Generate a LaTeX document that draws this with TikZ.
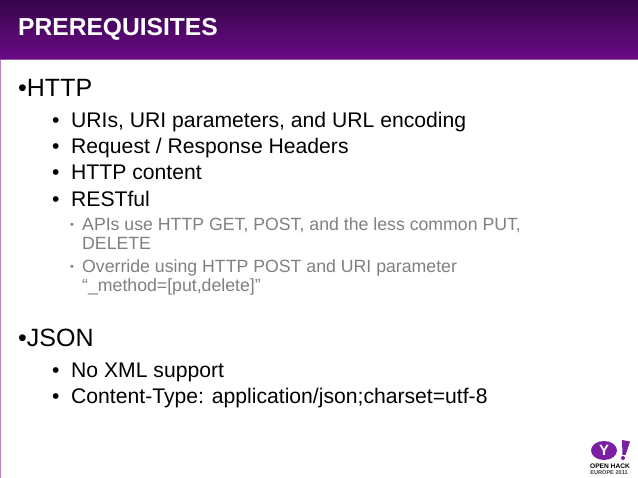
\documentclass[tikz,border=0pt]{standalone}
\usepackage{fontspec}
\setmainfont{Liberation Sans}
\definecolor{bartop}{HTML}{36064A}
\definecolor{barbot}{HTML}{6A0A86}
\definecolor{yp}{HTML}{7B1FA2}
\definecolor{subgray}{HTML}{808080}
\begin{document}
\begin{tikzpicture}[x=1pt,y=-1pt,
  lone/.style={inner sep=0pt,anchor=base west,text=black,font=\fontsize{21.15}{24}\selectfont},
  ltwo/.style={inner sep=0pt,anchor=base west,text=subgray,font=\fontsize{17.7}{20}\selectfont},
  lhead/.style={inner sep=0pt,anchor=base west,text=black,font=\fontsize{25}{28}\selectfont}]
\useasboundingbox (0,0) rectangle (638,478);
\fill[white] (0,0) rectangle (638,478);
\shade[top color=bartop,bottom color=barbot] (0,0) rectangle (638,59);
\fill[barbot!70!white] (0,59) rectangle (638,60.5);
\fill[barbot!50!white] (0,60) rectangle (1.3,478);
\node[inner sep=0pt,anchor=base west,text=white,font=\fontsize{24.6}{28}\selectfont\bfseries] (title) at (18,35.5) {PREREQUISITES};
\node[lhead] (h1) at (18,97) {•HTTP};
\node[lone] (a0) at (52,128) {•};
\node[lone] (a1) at (71,128) {URIs, URI parameters, and URL encoding};
\node[lone] (b0) at (52,154) {•};
\node[lone] (b1) at (71,154) {Request / Response Headers};
\node[lone] (c0) at (52,180) {•};
\node[lone] (c1) at (71,180) {HTTP content};
\node[lone] (d0) at (52,207) {•};
\node[lone] (d1) at (71,207) {RESTful};
\node[ltwo,font=\fontsize{11}{12}\selectfont] (e0) at (70,229) {•};
\node[ltwo] (e1) at (82,230.5) {APIs use HTTP GET, POST, and the less common PUT,};
\node[ltwo] (e2) at (82,250) {DELETE};
\node[ltwo,font=\fontsize{11}{12}\selectfont] (f0) at (70,271) {•};
\node[ltwo] (f1) at (82,272.5) {Override using HTTP POST and URI parameter};
\node[ltwo] (f2) at (82,292) {“\_method=[put,delete]”};
\node[lhead] (h2) at (18,346.5) {•JSON};
\node[lone] (g0) at (52,377.5) {•};
\node[lone] (g1) at (71,377.5) {No XML support};
\node[lone] (i0) at (52,404) {•};
\node[lone] (i1) at (71,404) {Content-Type: application/json;charset=utf-8};
% logo
\fill[yp] (604,450.5) ellipse (13 and 9.5);
\node[inner sep=0pt,text=white,font=\fontsize{15}{15}\selectfont\bfseries] (ylet) at (604,450.5) {Y};
\fill[yp] (622,440) -- (630,441.5) -- (625.5,455) -- (622.5,455) -- cycle;
\fill[yp] (623,458) circle (2);
\node[inner sep=0pt,text=black,font=\fontsize{6.6}{7}\selectfont\bfseries] (oh) at (610,466) {OPEN HACK};
\node[inner sep=0pt,text=black!75,font=\fontsize{5.6}{6}\selectfont\bfseries] (eu) at (609,472.5) {EUROPE 2011};
\end{tikzpicture}
\end{document}
